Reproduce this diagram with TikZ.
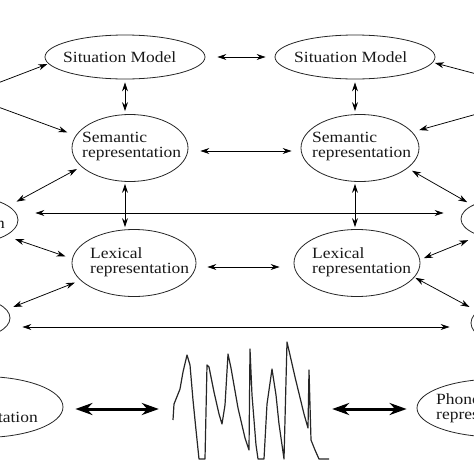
\documentclass[tikz,border=0pt]{standalone}
\usepackage{fontspec}
\setmainfont{Liberation Serif}[FakeStretch=1.12]
\usetikzlibrary{shapes.geometric,arrows.meta}
\begin{document}
\begin{tikzpicture}[x=1pt,y=-1pt,
  ell/.style={draw=black!85, line width=0.8pt, ellipse, inner sep=0pt},
  lbl/.style={inner sep=0pt, align=left, font=\fontsize{15.6}{15}\selectfont, text=black!90},
  con/.style={line width=0.75pt, draw=black},
  tipone/.style={-{Stealth[length=9pt,width=6pt]}},
  tipboth/.style={{Stealth[length=9pt,width=6pt]}-{Stealth[length=9pt,width=6pt]}},
  fat/.style={line width=3pt, draw=black, {Stealth[length=17pt,width=12pt]}-{Stealth[length=17pt,width=12pt]}},
  wavestyle/.style={line width=1.2pt, draw=black!85, line join=round}
]
\useasboundingbox (0,0) rectangle (474,474);
\clip (0,0) rectangle (474,474);

% ellipses
\node[ell, minimum width=160pt, minimum height=44pt] (sit1) at (125,57) {};
\node[ell, minimum width=160pt, minimum height=44pt] (sit2) at (355,57) {};
\node[ell, minimum width=116pt, minimum height=67pt] (sem1) at (130,148) {};
\node[ell, minimum width=118pt, minimum height=67pt] (sem2) at (360,148) {};
\node[ell, minimum width=124pt, minimum height=67pt] (lex1) at (134,263) {};
\node[ell, minimum width=126pt, minimum height=67pt] (lex2) at (357,263) {};
\node[ell, minimum width=96pt, minimum height=46pt] (L1) at (-30,220) {};
\node[ell, minimum width=88pt, minimum height=40pt] (R1) at (505,219) {};
\node[ell, minimum width=80pt, minimum height=40pt] (L2) at (-30,318) {};
\node[ell, minimum width=74pt, minimum height=40pt] (R2) at (508,323) {};
\node[ell, minimum width=160pt, minimum height=61pt] (ph1) at (-17,407) {};
\node[ell, minimum width=160pt, minimum height=58pt] (ph2) at (497,408) {};

% texts
\node[lbl, anchor=west] (t1) at (63,57.5) {Situation Model};
\node[lbl, anchor=west] (t2) at (294,57.5) {Situation Model};
\node[lbl, anchor=west] (t3) at (82,146) {Semantic\\representation};
\node[lbl, anchor=west] (t4) at (312,146) {Semantic\\representation};
\node[lbl, anchor=west] (t5) at (90,262) {Lexical\\representation};
\node[lbl, anchor=west] (t6) at (312,262) {Lexical\\representation};
\node[lbl, anchor=east] (t7) at (5,224.5) {representation};
\node[lbl, anchor=east] (t8) at (38,418.5) {representation};
\node[lbl, anchor=west] (t9) at (436,408.5) {Phonological\\representation};

% horizontal and vertical connectors
\draw[con,tipboth,shorten <=12pt,shorten >=9pt] (sit1.east) -- (sit2.west);
\draw[con,tipboth,shorten <=3pt,shorten >=3pt] (sit1.south) -- (sit1.south |- sem1.north);
\draw[con,tipboth,shorten <=3pt,shorten >=3pt] (sit2.south) -- (sit2.south |- sem2.north);
\draw[con,tipboth,shorten <=2pt,shorten >=2pt] (sit1.south |- sem1.south) -- (sit1.south |- lex1.north);
\draw[con,tipboth,shorten <=2pt,shorten >=2pt] (sit2.south |- sem2.south) -- (sit2.south |- lex2.north);
\draw[con,tipboth,shorten <=12pt,shorten >=9pt] ([yshift=-3pt]sem1.east) -- ([yshift=-3pt]sem2.west);
\draw[con,tipboth,shorten <=11pt,shorten >=14pt] ([yshift=-4pt]lex1.east) -- ([yshift=-4pt]lex2.west);
\draw[con,tipboth,shorten <=17pt,shorten >=17pt] ([yshift=7pt]L1.east) -- ([yshift=6pt]R1.west);
\draw[con,tipboth,shorten <=12pt,shorten >=21pt] ([yshift=-9pt]L2.east) -- ([yshift=-4pt]R2.west);

% diagonal connectors
\coordinate (e1) at (-10,86);
\coordinate (e2) at (-10,104);
\coordinate (e3) at (484,76);
\coordinate (e4) at (484,112);
\draw[con,tipone,shorten >=1pt] (e1) -- (sit1.185);
\draw[con,tipone,shorten >=9pt] (e2) -- (sem1.167);
\draw[con,tipboth,shorten <=5pt,shorten >=9pt] (sem1.201) -- (L1.20);
\draw[con,tipboth,shorten <=10pt,shorten >=7pt] (L1.-24) -- (lex1.176);
\draw[con,tipboth,shorten <=6pt,shorten >=7pt] (lex1.198) -- (L2.13);
\draw[con,tipone,shorten >=2pt] (e3) -- (sit2.-4);
\draw[con,tipone,shorten >=7pt] (e4) -- (sem2.17);
\draw[con,tipboth,shorten <=5pt,shorten >=6pt] (sem2.-23) -- (R1.157);
\draw[con,tipboth,shorten <=12pt,shorten >=4pt] (R1.213) -- (lex2.3);
\draw[con,tipboth,shorten <=1pt,shorten >=9pt] (lex2.-14) -- (R2.159);

% waveform
\node[inner sep=0pt, minimum width=154pt, minimum height=118pt] (wave) at (249,400) {};
\draw[wavestyle] (173,420) -- (174,404) -- (180,389) -- (183,372) -- (187,355) -- (190,365)
  -- (193,400) -- (196,430) -- (199,459) -- (205,459) -- (207,365) -- (209,367) -- (214,392)
  -- (219,414) -- (222,424) -- (225,405) -- (228,354) -- (231,368) -- (238,408) -- (245,438)
  -- (249,450) -- (250,349) -- (252,395) -- (256,445) -- (258,459) -- (264,459) -- (267,404)
  -- (272,369) -- (276,395) -- (279,424) -- (284,459) -- (287,342) -- (290,355) -- (295,377)
  -- (304,414) -- (308,428) -- (309,370) -- (311,440) -- (315,450) -- (319,459) -- (329,459);

% thick arrows
\draw[fat,shorten <=12pt,shorten >=13pt] ([yshift=-2pt]ph1.east) -- ([yshift=-2pt]ph1.east -| wave.west);
\draw[fat,shorten <=6pt,shorten >=10pt] ([yshift=-1pt]ph2.west -| wave.east) -- ([yshift=-1pt]ph2.west);
\end{tikzpicture}
\end{document}
